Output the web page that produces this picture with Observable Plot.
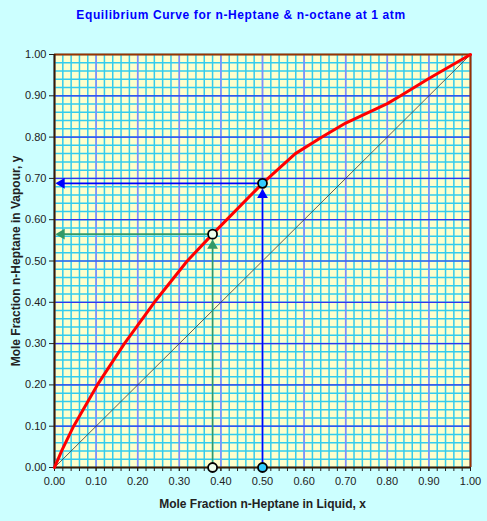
<!DOCTYPE html>
<html><head><meta charset="utf-8">
<script src="https://cdn.jsdelivr.net/npm/d3@7"></script>
<script src="https://cdn.jsdelivr.net/npm/@observablehq/plot@0.6"></script>
<style>
body{margin:0;background:#ccffff;font-family:"Liberation Sans",Arial,sans-serif;}
#title{height:34px;line-height:30px;text-align:center;color:#0000ff;font-weight:bold;font-size:12px;width:482px;letter-spacing:0.6px}
</style></head><body>
<div id="title">Equilibrium Curve for n-Heptane &amp; n-octane at 1 atm</div>
<div id="chart"></div>
<script>
// equilibrium data
const liquidX = [0, 0.018, 0.046, 0.103, 0.168, 0.240, 0.319, 0.38, 0.50, 0.579, 0.643, 0.70, 0.80, 0.832, 0.90, 1.0];
const vapourY = [0, 0.042, 0.10, 0.20, 0.30, 0.40, 0.50, 0.565, 0.688, 0.760, 0.80, 0.834, 0.881, 0.90, 0.942, 1.0];
// operating points (liquid x -> vapour y)
const opX = [0.38, 0.50];
const opY = [0.565, 0.688];
const opStroke = ["#339966", "#0000ff"];
const opFill = ["#eeffee", "#33ccff"];
const majorTicks = [0, 0.1, 0.2, 0.3, 0.4, 0.5, 0.6, 0.7, 0.8, 0.9, 1.0];
const minorTicks = d3.range(0, 51).map(i => i / 50);

const curve = liquidX.map((x, i) => ({x, y: vapourY[i]}));
const ops = opX.map((x, i) => ({x, y: opY[i], s: opStroke[i], f: opFill[i]}));
const fmt = d3.format(".2f");

let chart = Plot.plot({
  width: 487,
  height: 487,
  marginLeft: 54,
  marginRight: 17,
  marginTop: 20,
  marginBottom: 54,
  style: {background: "transparent", fontFamily: "Liberation Sans, Arial, sans-serif", fontSize: "11px", color: "#222"},
  x: {domain: [0, 1]},
  y: {domain: [0, 1]},
  marks: [
    Plot.frame({fill: "#ffffcc", stroke: null}),
    Plot.gridX(minorTicks, {stroke: "#33ccee", strokeOpacity: 1, strokeWidth: 1.5}),
    Plot.gridY(minorTicks, {stroke: "#33ccee", strokeOpacity: 1, strokeWidth: 1.5}),
    Plot.gridX(majorTicks, {stroke: "#8888ff", strokeOpacity: 1, strokeWidth: 1.5}),
    Plot.gridY(majorTicks, {stroke: "#3333ee", strokeOpacity: 1, strokeWidth: 1.2}),
    Plot.axisX(minorTicks, {tickSize: 4, tickFormat: () => "", label: null, stroke: "#222"}),
    Plot.axisX(majorTicks, {tickSize: 4, tickPadding: 6, tickFormat: fmt,
      label: "Mole Fraction n-Heptane in Liquid, x", labelAnchor: "center", labelArrow: "none", labelOffset: 40}),
    Plot.axisY(majorTicks, {tickSize: 5, tickPadding: 3, tickFormat: fmt,
      label: "Mole Fraction n-Heptane in Vapour, y", labelAnchor: "center", labelArrow: "none", labelOffset: 43}),
    // plot border
    Plot.ruleY([1], {stroke: "#993300", strokeWidth: 2}),
    Plot.ruleX([1], {stroke: "#993300", strokeWidth: 2}),
    Plot.ruleY([0], {stroke: "#3a1a00", strokeWidth: 2}),
    Plot.ruleX([0], {stroke: "#3a1a00", strokeWidth: 2}),
    // x = y diagonal
    Plot.line([{x: 0, y: 0}, {x: 1, y: 1}], {x: "x", y: "y", stroke: "#333", strokeWidth: 0.8}),
    // construction arrows
    Plot.link(ops, {x1: "x", y1: () => 0, x2: "x", y2: d => d.y - 0.028, stroke: "s", strokeWidth: 1.5}),
    Plot.link(ops, {x1: "x", y1: "y", x2: () => 0.01, y2: "y", stroke: "s", strokeWidth: 1.8}),
    Plot.dot(ops, {x: "x", y: d => d.y - 0.028, symbol: "triangle", r: 4, fill: "s", stroke: null}),
    Plot.dot(ops, {x: () => 0.017, y: "y", symbol: "triangle", rotate: -90, r: 4, fill: "s", stroke: null}),
    // equilibrium curve
    Plot.line(curve, {x: "x", y: "y", stroke: "#ff0000", strokeWidth: 3}),
    // operating points
    Plot.dot(ops, {x: "x", y: "y", r: 4.5, fill: "f", stroke: "black", strokeWidth: 1.8}),
    Plot.dot(ops, {x: "x", y: () => 0, r: 4.5, fill: "f", stroke: "black", strokeWidth: 1.8})
  ]
});
d3.select(chart).selectAll("g[aria-label='x-axis label'] text, g[aria-label='y-axis label'] text")
  .style("font-weight", "bold").style("font-size", "12px");
d3.select('#chart').append(() => chart);
</script>
</body></html>
